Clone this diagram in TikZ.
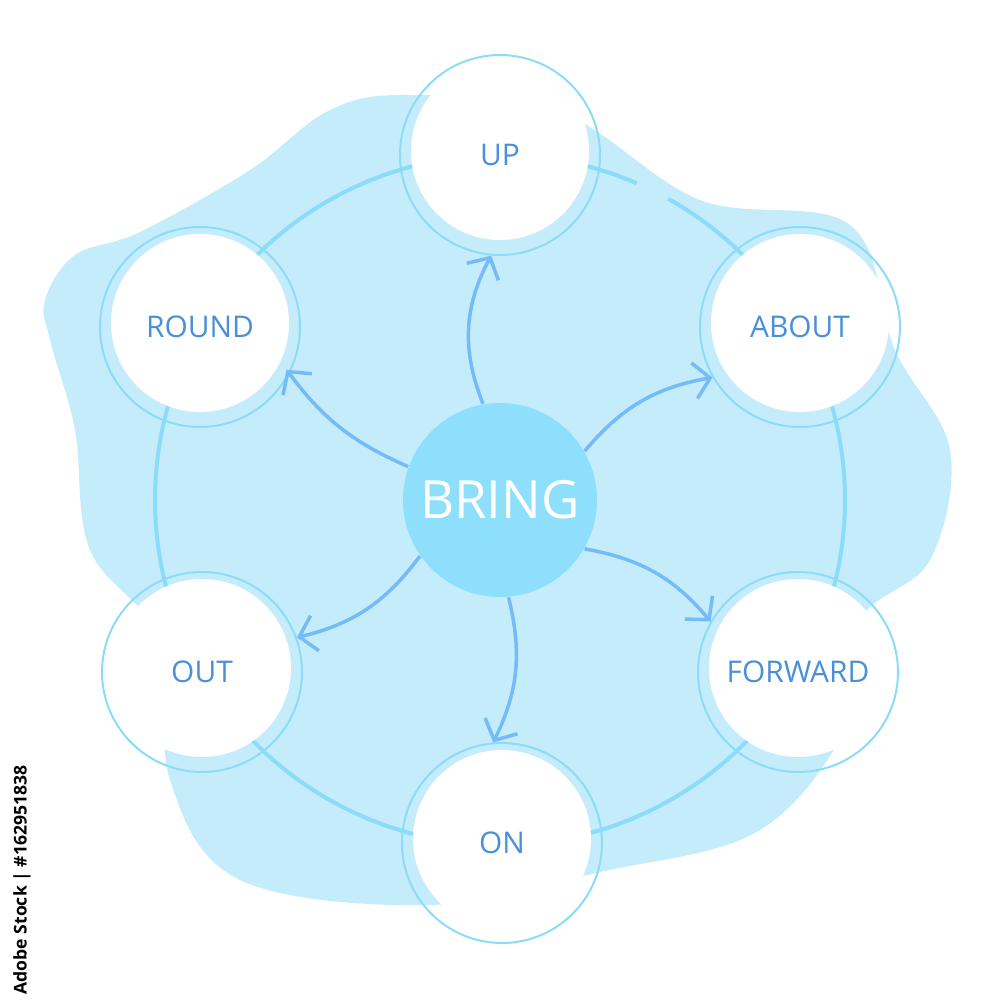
\documentclass[tikz,border=0pt]{standalone}
\usepackage{fontspec}
\setmainfont{Open Sans}
\usetikzlibrary{arrows.meta}
\definecolor{blob}{HTML}{C5ECFB}
\definecolor{ringc}{HTML}{8ADCF8}
\definecolor{ctr}{HTML}{8EDFFB}
\definecolor{txt}{HTML}{4A90D9}
\begin{document}
\begin{tikzpicture}[x=0.1mm,y=-0.1mm,
  sat/.style={circle,minimum size=200*0.1mm,draw=ringc,line width=0.2mm,inner sep=0},
  lbl/.style={text=txt,font=\fontsize{8.5}{10}\selectfont},
  arr/.style={draw=ringc!85!blue,line width=0.35mm,-{Straight Barb[length=1.6mm,width=3.6mm]}},
  ringl/.style={draw=ringc,line width=0.4mm}]
\useasboundingbox (0,0) rectangle (1000,1000);
\fill[blob] plot[smooth cycle,tension=0.6] coordinates{(45,300)(75,255)(140,232)(250,170)(330,110)(410,95)(560,112)(700,200)(850,225)(895,350)(950,450)(930,560)(860,620)(850,720)(760,830)(600,872)(430,905)(240,880)(170,780)(160,640)(90,550)(75,430)(50,340)};
\draw[ringl] (500,500) ++(150:345) arc[start angle=150,end angle=210,radius=345];
\draw[ringl] (500,500) ++(210:345) arc[start angle=210,end angle=270,radius=345];
\draw[ringl,dash pattern=on 110 off 10 on 200 off 10] (500,500) ++(90:345) arc[start angle=90,end angle=150,radius=345];
\draw[ringl,dash pattern=on 40 off 10 on 300 off 10] (500,500) ++(270:345) arc[start angle=270,end angle=330,radius=345];
\draw[ringl] (500,500) ++(330:345) arc[start angle=330,end angle=390,radius=345];
\draw[ringl,dash pattern=on 110 off 8 on 25 off 8 on 300 off 10] (500,500) ++(30:345) arc[start angle=30,end angle=90,radius=345];
\foreach \n/\x/\y/\t in {up/500/155/UP,about/800/327/ABOUT,forward/798/672/FORWARD,on/502/843/ON,out/202/672/OUT,round/200/327/ROUND}{
  \node[sat] (\n) at (\x,\y) {};
  \fill[white] (\x,\y-4) circle[radius=89];
  \node[lbl] (\n t) at (\x,\y) {\t};
}
\node[circle,fill=ctr,minimum size=194*0.1mm,inner sep=0,text=white,font=\fontsize{15}{18}\selectfont] (bring) at (500,500) {BRING};
\draw[arr] (bring.100) to[bend left=25] (up.-95);
\draw[arr] (bring.160) to[bend left=15] ([shift={(-5,0)}]round.-25);
\draw[arr] (bring.215) to[bend left=20] (out.20);
\draw[arr] (bring.-85) to[bend left=20] (on.95);
\draw[arr] (bring.-30) to[bend left=20] (forward.150);
\draw[arr] (bring.30) to[bend left=20] (about.-150);
\node[rotate=90,font=\fontsize{5}{6}\selectfont\bfseries] (wm) at (22,880) {Adobe Stock | \#162951838};
\end{tikzpicture}
\end{document}
